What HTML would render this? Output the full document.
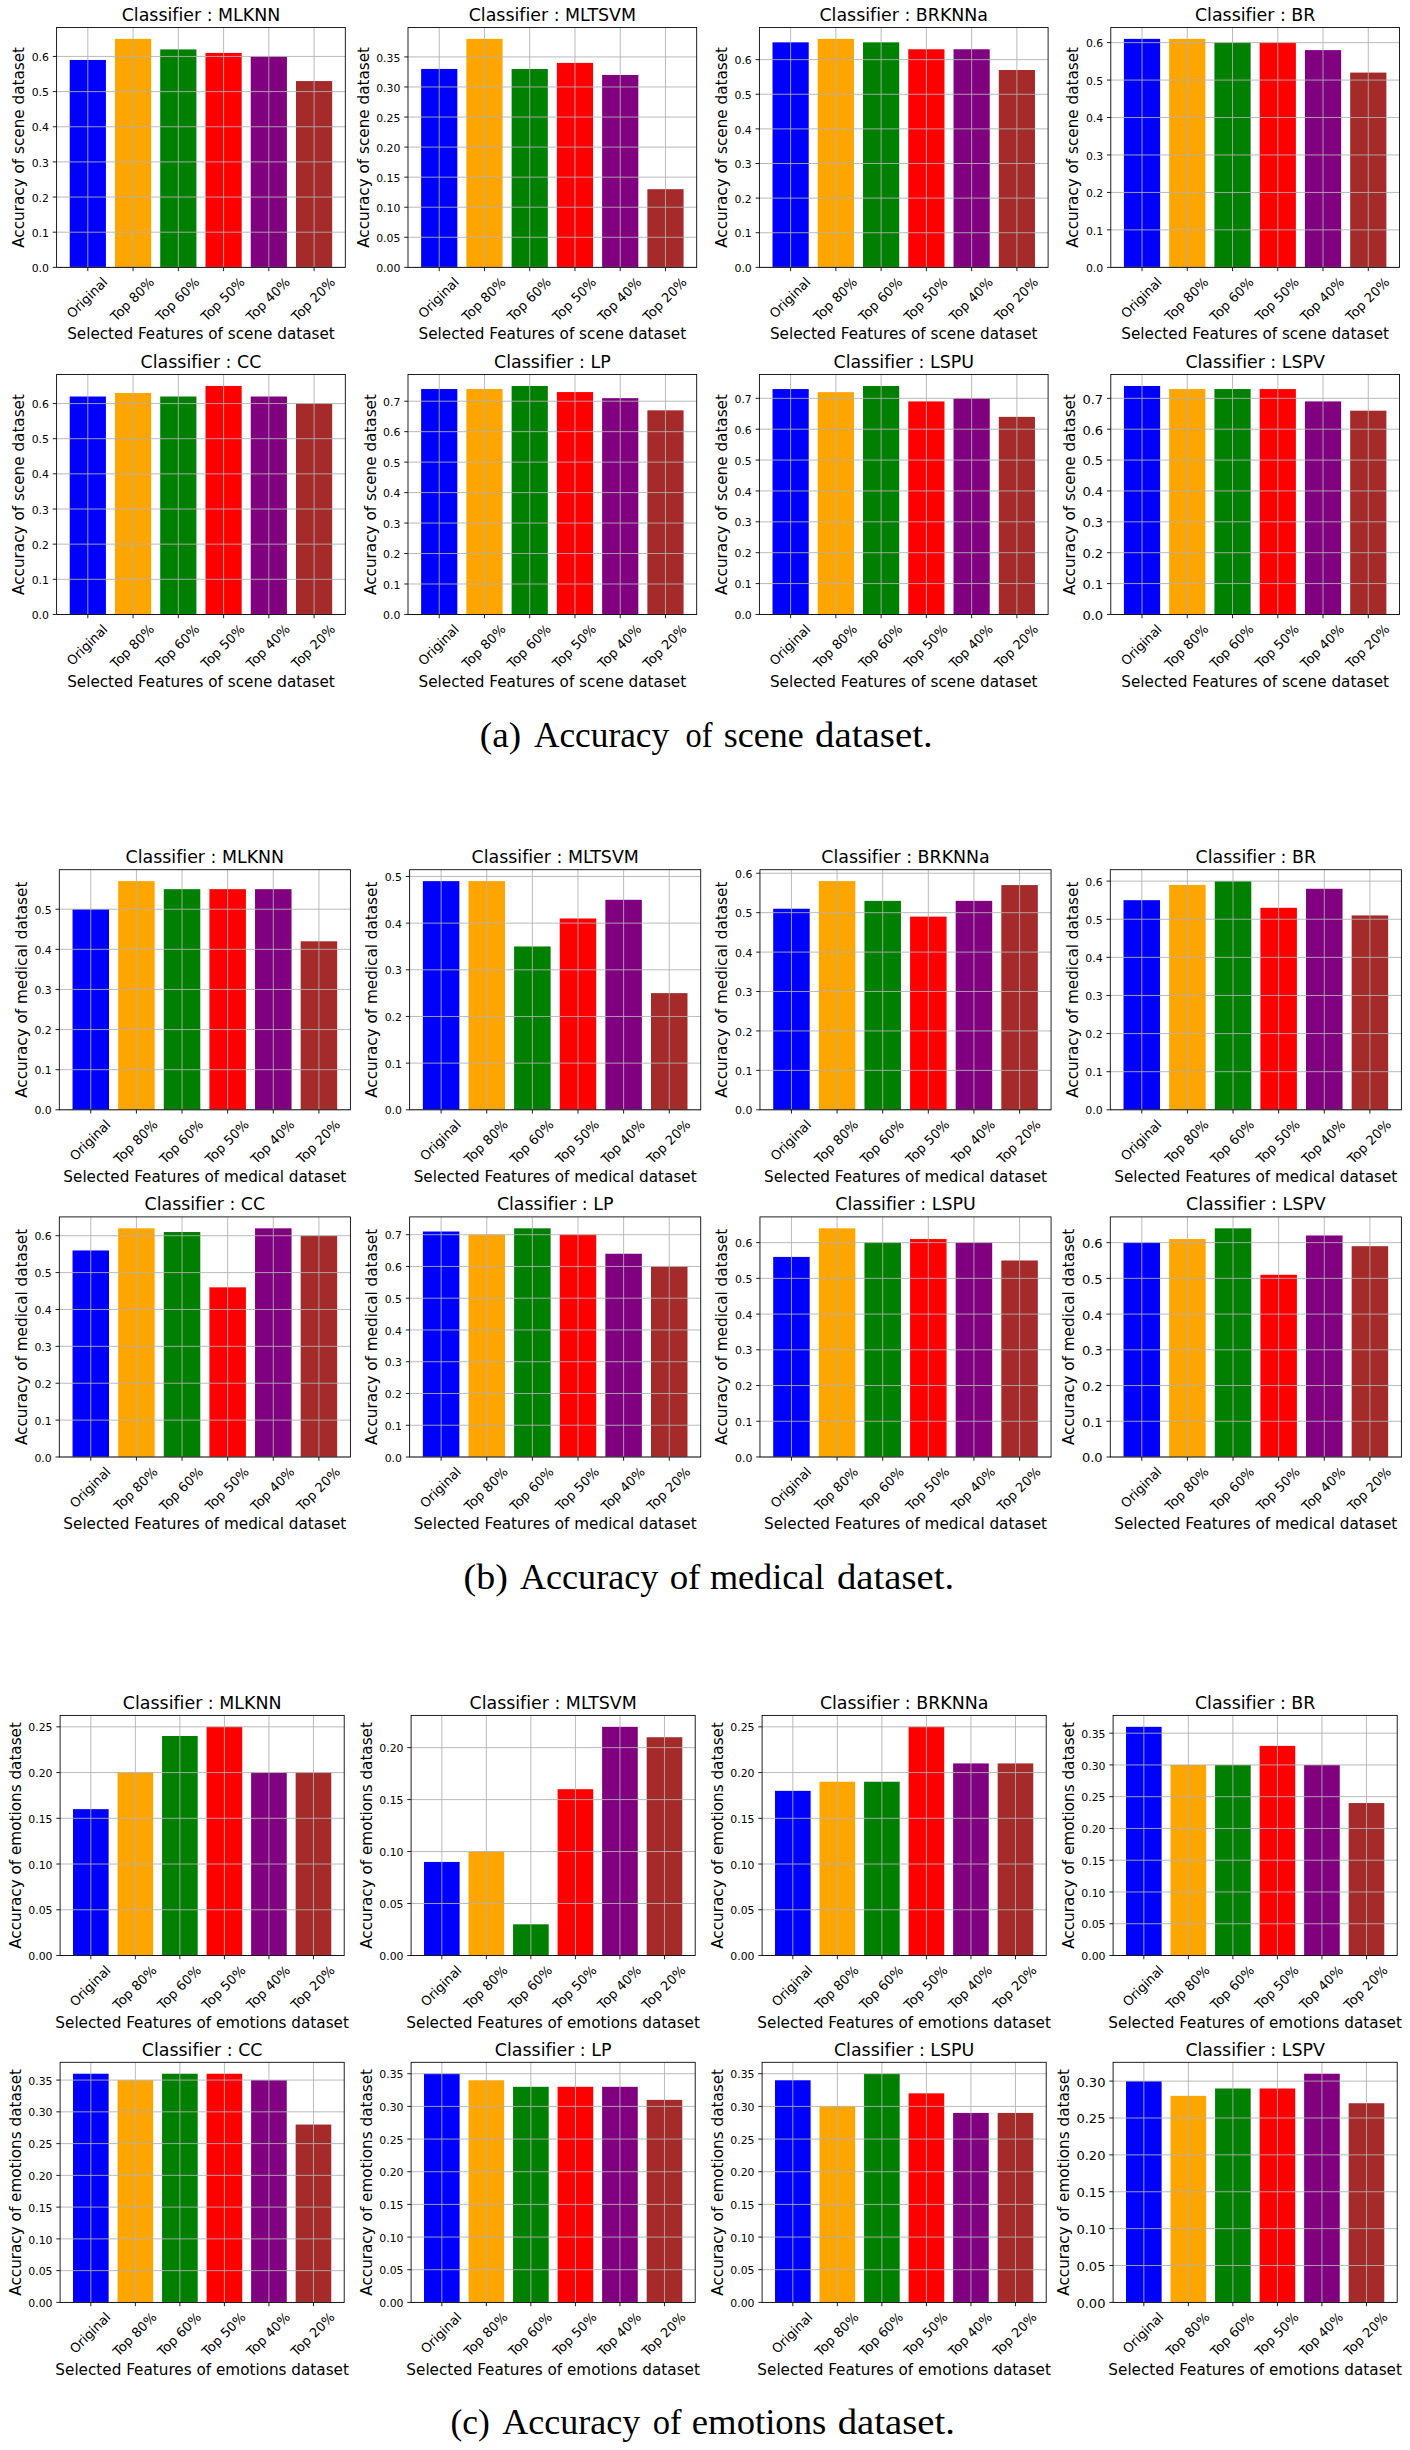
<!DOCTYPE html>
<html lang="en"><head><meta charset="utf-8"><title>Accuracy of datasets</title>
<style>
html,body{margin:0;padding:0;background:#fff}
svg{display:block}
svg text{font-family:"DejaVu Sans","Liberation Sans",sans-serif;fill:#000;font-variant-ligatures:none}
svg text.cap{font-family:"Liberation Serif","DejaVu Serif",serif}
</style></head><body>
<svg width="1410" height="2450" viewBox="0 0 1410 2450">
<rect width="1410" height="2450" fill="#fff"/>
<g>
<rect x="69.72" y="59.96" width="36.2" height="207.39" fill="#0000ff"/>
<rect x="114.97" y="38.87" width="36.2" height="228.48" fill="#ffa500"/>
<rect x="160.22" y="49.42" width="36.2" height="217.93" fill="#008000"/>
<rect x="205.48" y="52.93" width="36.2" height="214.42" fill="#ff0000"/>
<rect x="250.73" y="56.45" width="36.2" height="210.9" fill="#800080"/>
<rect x="295.98" y="81.05" width="36.2" height="186.3" fill="#a52a2a"/>
<path d="M87.82 27.45V267.35M133.07 27.45V267.35M178.32 27.45V267.35M223.58 27.45V267.35M268.83 27.45V267.35M314.08 27.45V267.35M56.6 267.35H345.3M56.6 232.2H345.3M56.6 197.05H345.3M56.6 161.9H345.3M56.6 126.75H345.3M56.6 91.6H345.3M56.6 56.45H345.3" stroke="#b0b0b0" stroke-width="0.87" fill="none"/>
<path d="M87.82 267.35v3.81M133.07 267.35v3.81M178.32 267.35v3.81M223.58 267.35v3.81M268.83 267.35v3.81M314.08 267.35v3.81M56.6 267.35h-3.81M56.6 232.2h-3.81M56.6 197.05h-3.81M56.6 161.9h-3.81M56.6 126.75h-3.81M56.6 91.6h-3.81M56.6 56.45h-3.81" stroke="#000" stroke-width="0.87" fill="none"/>
<rect x="56.6" y="27.45" width="288.7" height="239.9" fill="none" stroke="#000" stroke-width="0.87"/>
<g font-size="10.88" text-anchor="end">
<text x="48.98" y="271.97">0.0</text>
<text x="48.98" y="236.82">0.1</text>
<text x="48.98" y="201.67">0.2</text>
<text x="48.98" y="166.52">0.3</text>
<text x="48.98" y="131.37">0.4</text>
<text x="48.98" y="96.22">0.5</text>
<text x="48.98" y="61.07">0.6</text>
</g>
<g font-size="13.06" text-anchor="middle">
<text transform="translate(87.82 298.5) rotate(-45)" y="3.59">Original</text>
<text transform="translate(133.07 299.96) rotate(-45)" y="3.59">Top 80%</text>
<text transform="translate(178.32 299.96) rotate(-45)" y="3.59">Top 60%</text>
<text transform="translate(223.58 299.96) rotate(-45)" y="3.59">Top 50%</text>
<text transform="translate(268.83 299.96) rotate(-45)" y="3.59">Top 40%</text>
<text transform="translate(314.08 299.96) rotate(-45)" y="3.59">Top 20%</text>
</g>
<text x="200.95" y="339.48" font-size="15.23" text-anchor="middle">Selected Features of scene dataset</text>
<text transform="translate(24.13 147.4) rotate(-90)" font-size="15.23" text-anchor="middle">Accuracy of scene dataset</text>
<text x="200.95" y="20.92" font-size="17.41" text-anchor="middle">Classifier : MLKNN</text>
</g>
<g>
<rect x="421.12" y="68.94" width="36.2" height="198.41" fill="#0000ff"/>
<rect x="466.37" y="38.87" width="36.2" height="228.48" fill="#ffa500"/>
<rect x="511.62" y="68.94" width="36.2" height="198.41" fill="#008000"/>
<rect x="556.88" y="62.92" width="36.2" height="204.43" fill="#ff0000"/>
<rect x="602.13" y="74.95" width="36.2" height="192.4" fill="#800080"/>
<rect x="647.38" y="189.19" width="36.2" height="78.16" fill="#a52a2a"/>
<path d="M439.22 27.45V267.35M484.47 27.45V267.35M529.72 27.45V267.35M574.98 27.45V267.35M620.23 27.45V267.35M665.48 27.45V267.35M408 267.35H696.7M408 237.29H696.7M408 207.22H696.7M408 177.16H696.7M408 147.1H696.7M408 117.04H696.7M408 86.97H696.7M408 56.91H696.7" stroke="#b0b0b0" stroke-width="0.87" fill="none"/>
<path d="M439.22 267.35v3.81M484.47 267.35v3.81M529.72 267.35v3.81M574.98 267.35v3.81M620.23 267.35v3.81M665.48 267.35v3.81M408 267.35h-3.81M408 237.29h-3.81M408 207.22h-3.81M408 177.16h-3.81M408 147.1h-3.81M408 117.04h-3.81M408 86.97h-3.81M408 56.91h-3.81" stroke="#000" stroke-width="0.87" fill="none"/>
<rect x="408" y="27.45" width="288.7" height="239.9" fill="none" stroke="#000" stroke-width="0.87"/>
<g font-size="10.88" text-anchor="end">
<text x="400.38" y="271.97">0.00</text>
<text x="400.38" y="241.91">0.05</text>
<text x="400.38" y="211.85">0.10</text>
<text x="400.38" y="181.78">0.15</text>
<text x="400.38" y="151.72">0.20</text>
<text x="400.38" y="121.66">0.25</text>
<text x="400.38" y="91.6">0.30</text>
<text x="400.38" y="61.53">0.35</text>
</g>
<g font-size="13.06" text-anchor="middle">
<text transform="translate(439.22 298.5) rotate(-45)" y="3.59">Original</text>
<text transform="translate(484.47 299.96) rotate(-45)" y="3.59">Top 80%</text>
<text transform="translate(529.72 299.96) rotate(-45)" y="3.59">Top 60%</text>
<text transform="translate(574.98 299.96) rotate(-45)" y="3.59">Top 50%</text>
<text transform="translate(620.23 299.96) rotate(-45)" y="3.59">Top 40%</text>
<text transform="translate(665.48 299.96) rotate(-45)" y="3.59">Top 20%</text>
</g>
<text x="552.35" y="339.48" font-size="15.23" text-anchor="middle">Selected Features of scene dataset</text>
<text transform="translate(368.61 147.4) rotate(-90)" font-size="15.23" text-anchor="middle">Accuracy of scene dataset</text>
<text x="552.35" y="20.92" font-size="17.41" text-anchor="middle">Classifier : MLTSVM</text>
</g>
<g>
<rect x="772.52" y="42.34" width="36.2" height="225.01" fill="#0000ff"/>
<rect x="817.77" y="38.87" width="36.2" height="228.48" fill="#ffa500"/>
<rect x="863.02" y="42.34" width="36.2" height="225.01" fill="#008000"/>
<rect x="908.28" y="49.26" width="36.2" height="218.09" fill="#ff0000"/>
<rect x="953.53" y="49.26" width="36.2" height="218.09" fill="#800080"/>
<rect x="998.78" y="70.03" width="36.2" height="197.32" fill="#a52a2a"/>
<path d="M790.62 27.45V267.35M835.87 27.45V267.35M881.12 27.45V267.35M926.38 27.45V267.35M971.63 27.45V267.35M1016.88 27.45V267.35M759.4 267.35H1048.1M759.4 232.73H1048.1M759.4 198.11H1048.1M759.4 163.5H1048.1M759.4 128.88H1048.1M759.4 94.26H1048.1M759.4 59.64H1048.1" stroke="#b0b0b0" stroke-width="0.87" fill="none"/>
<path d="M790.62 267.35v3.81M835.87 267.35v3.81M881.12 267.35v3.81M926.38 267.35v3.81M971.63 267.35v3.81M1016.88 267.35v3.81M759.4 267.35h-3.81M759.4 232.73h-3.81M759.4 198.11h-3.81M759.4 163.5h-3.81M759.4 128.88h-3.81M759.4 94.26h-3.81M759.4 59.64h-3.81" stroke="#000" stroke-width="0.87" fill="none"/>
<rect x="759.4" y="27.45" width="288.7" height="239.9" fill="none" stroke="#000" stroke-width="0.87"/>
<g font-size="10.88" text-anchor="end">
<text x="751.78" y="271.97">0.0</text>
<text x="751.78" y="237.35">0.1</text>
<text x="751.78" y="202.74">0.2</text>
<text x="751.78" y="168.12">0.3</text>
<text x="751.78" y="133.5">0.4</text>
<text x="751.78" y="98.88">0.5</text>
<text x="751.78" y="64.27">0.6</text>
</g>
<g font-size="13.06" text-anchor="middle">
<text transform="translate(790.62 298.5) rotate(-45)" y="3.59">Original</text>
<text transform="translate(835.87 299.96) rotate(-45)" y="3.59">Top 80%</text>
<text transform="translate(881.12 299.96) rotate(-45)" y="3.59">Top 60%</text>
<text transform="translate(926.38 299.96) rotate(-45)" y="3.59">Top 50%</text>
<text transform="translate(971.63 299.96) rotate(-45)" y="3.59">Top 40%</text>
<text transform="translate(1016.88 299.96) rotate(-45)" y="3.59">Top 20%</text>
</g>
<text x="903.75" y="339.48" font-size="15.23" text-anchor="middle">Selected Features of scene dataset</text>
<text transform="translate(726.93 147.4) rotate(-90)" font-size="15.23" text-anchor="middle">Accuracy of scene dataset</text>
<text x="903.75" y="20.92" font-size="17.41" text-anchor="middle">Classifier : BRKNNa</text>
</g>
<g>
<rect x="1123.92" y="38.87" width="36.2" height="228.48" fill="#0000ff"/>
<rect x="1169.17" y="38.87" width="36.2" height="228.48" fill="#ffa500"/>
<rect x="1214.42" y="42.62" width="36.2" height="224.73" fill="#008000"/>
<rect x="1259.68" y="42.62" width="36.2" height="224.73" fill="#ff0000"/>
<rect x="1304.93" y="50.11" width="36.2" height="217.24" fill="#800080"/>
<rect x="1350.18" y="72.58" width="36.2" height="194.77" fill="#a52a2a"/>
<path d="M1142.02 27.45V267.35M1187.27 27.45V267.35M1232.52 27.45V267.35M1277.78 27.45V267.35M1323.03 27.45V267.35M1368.28 27.45V267.35M1110.8 267.35H1399.5M1110.8 229.89H1399.5M1110.8 192.44H1399.5M1110.8 154.98H1399.5M1110.8 117.53H1399.5M1110.8 80.07H1399.5M1110.8 42.62H1399.5" stroke="#b0b0b0" stroke-width="0.87" fill="none"/>
<path d="M1142.02 267.35v3.81M1187.27 267.35v3.81M1232.52 267.35v3.81M1277.78 267.35v3.81M1323.03 267.35v3.81M1368.28 267.35v3.81M1110.8 267.35h-3.81M1110.8 229.89h-3.81M1110.8 192.44h-3.81M1110.8 154.98h-3.81M1110.8 117.53h-3.81M1110.8 80.07h-3.81M1110.8 42.62h-3.81" stroke="#000" stroke-width="0.87" fill="none"/>
<rect x="1110.8" y="27.45" width="288.7" height="239.9" fill="none" stroke="#000" stroke-width="0.87"/>
<g font-size="10.88" text-anchor="end">
<text x="1103.18" y="271.97">0.0</text>
<text x="1103.18" y="234.52">0.1</text>
<text x="1103.18" y="197.06">0.2</text>
<text x="1103.18" y="159.61">0.3</text>
<text x="1103.18" y="122.15">0.4</text>
<text x="1103.18" y="84.7">0.5</text>
<text x="1103.18" y="47.24">0.6</text>
</g>
<g font-size="13.06" text-anchor="middle">
<text transform="translate(1142.02 298.5) rotate(-45)" y="3.59">Original</text>
<text transform="translate(1187.27 299.96) rotate(-45)" y="3.59">Top 80%</text>
<text transform="translate(1232.52 299.96) rotate(-45)" y="3.59">Top 60%</text>
<text transform="translate(1277.78 299.96) rotate(-45)" y="3.59">Top 50%</text>
<text transform="translate(1323.03 299.96) rotate(-45)" y="3.59">Top 40%</text>
<text transform="translate(1368.28 299.96) rotate(-45)" y="3.59">Top 20%</text>
</g>
<text x="1255.15" y="339.48" font-size="15.23" text-anchor="middle">Selected Features of scene dataset</text>
<text transform="translate(1078.33 147.4) rotate(-90)" font-size="15.23" text-anchor="middle">Accuracy of scene dataset</text>
<text x="1255.15" y="20.92" font-size="17.41" text-anchor="middle">Classifier : BR</text>
</g>
<g>
<rect x="69.72" y="396.52" width="36.2" height="217.93" fill="#0000ff"/>
<rect x="114.97" y="393" width="36.2" height="221.45" fill="#ffa500"/>
<rect x="160.22" y="396.52" width="36.2" height="217.93" fill="#008000"/>
<rect x="205.48" y="385.97" width="36.2" height="228.48" fill="#ff0000"/>
<rect x="250.73" y="396.52" width="36.2" height="217.93" fill="#800080"/>
<rect x="295.98" y="403.55" width="36.2" height="210.9" fill="#a52a2a"/>
<path d="M87.82 374.55V614.45M133.07 374.55V614.45M178.32 374.55V614.45M223.58 374.55V614.45M268.83 374.55V614.45M314.08 374.55V614.45M56.6 614.45H345.3M56.6 579.3H345.3M56.6 544.15H345.3M56.6 509H345.3M56.6 473.85H345.3M56.6 438.7H345.3M56.6 403.55H345.3" stroke="#b0b0b0" stroke-width="0.87" fill="none"/>
<path d="M87.82 614.45v3.81M133.07 614.45v3.81M178.32 614.45v3.81M223.58 614.45v3.81M268.83 614.45v3.81M314.08 614.45v3.81M56.6 614.45h-3.81M56.6 579.3h-3.81M56.6 544.15h-3.81M56.6 509h-3.81M56.6 473.85h-3.81M56.6 438.7h-3.81M56.6 403.55h-3.81" stroke="#000" stroke-width="0.87" fill="none"/>
<rect x="56.6" y="374.55" width="288.7" height="239.9" fill="none" stroke="#000" stroke-width="0.87"/>
<g font-size="10.88" text-anchor="end">
<text x="48.98" y="619.07">0.0</text>
<text x="48.98" y="583.92">0.1</text>
<text x="48.98" y="548.77">0.2</text>
<text x="48.98" y="513.62">0.3</text>
<text x="48.98" y="478.47">0.4</text>
<text x="48.98" y="443.32">0.5</text>
<text x="48.98" y="408.17">0.6</text>
</g>
<g font-size="13.06" text-anchor="middle">
<text transform="translate(87.82 645.6) rotate(-45)" y="3.59">Original</text>
<text transform="translate(133.07 647.06) rotate(-45)" y="3.59">Top 80%</text>
<text transform="translate(178.32 647.06) rotate(-45)" y="3.59">Top 60%</text>
<text transform="translate(223.58 647.06) rotate(-45)" y="3.59">Top 50%</text>
<text transform="translate(268.83 647.06) rotate(-45)" y="3.59">Top 40%</text>
<text transform="translate(314.08 647.06) rotate(-45)" y="3.59">Top 20%</text>
</g>
<text x="200.95" y="686.58" font-size="15.23" text-anchor="middle">Selected Features of scene dataset</text>
<text transform="translate(24.13 494.5) rotate(-90)" font-size="15.23" text-anchor="middle">Accuracy of scene dataset</text>
<text x="200.95" y="368.02" font-size="17.41" text-anchor="middle">Classifier : CC</text>
</g>
<g>
<rect x="421.12" y="389.02" width="36.2" height="225.43" fill="#0000ff"/>
<rect x="466.37" y="389.02" width="36.2" height="225.43" fill="#ffa500"/>
<rect x="511.62" y="385.97" width="36.2" height="228.48" fill="#008000"/>
<rect x="556.88" y="392.07" width="36.2" height="222.38" fill="#ff0000"/>
<rect x="602.13" y="398.16" width="36.2" height="216.29" fill="#800080"/>
<rect x="647.38" y="410.34" width="36.2" height="204.11" fill="#a52a2a"/>
<path d="M439.22 374.55V614.45M484.47 374.55V614.45M529.72 374.55V614.45M574.98 374.55V614.45M620.23 374.55V614.45M665.48 374.55V614.45M408 614.45H696.7M408 583.99H696.7M408 553.52H696.7M408 523.06H696.7M408 492.6H696.7M408 462.13H696.7M408 431.67H696.7M408 401.21H696.7" stroke="#b0b0b0" stroke-width="0.87" fill="none"/>
<path d="M439.22 614.45v3.81M484.47 614.45v3.81M529.72 614.45v3.81M574.98 614.45v3.81M620.23 614.45v3.81M665.48 614.45v3.81M408 614.45h-3.81M408 583.99h-3.81M408 553.52h-3.81M408 523.06h-3.81M408 492.6h-3.81M408 462.13h-3.81M408 431.67h-3.81M408 401.21h-3.81" stroke="#000" stroke-width="0.87" fill="none"/>
<rect x="408" y="374.55" width="288.7" height="239.9" fill="none" stroke="#000" stroke-width="0.87"/>
<g font-size="10.88" text-anchor="end">
<text x="400.38" y="619.07">0.0</text>
<text x="400.38" y="588.61">0.1</text>
<text x="400.38" y="558.14">0.2</text>
<text x="400.38" y="527.68">0.3</text>
<text x="400.38" y="497.22">0.4</text>
<text x="400.38" y="466.75">0.5</text>
<text x="400.38" y="436.29">0.6</text>
<text x="400.38" y="405.83">0.7</text>
</g>
<g font-size="13.06" text-anchor="middle">
<text transform="translate(439.22 645.6) rotate(-45)" y="3.59">Original</text>
<text transform="translate(484.47 647.06) rotate(-45)" y="3.59">Top 80%</text>
<text transform="translate(529.72 647.06) rotate(-45)" y="3.59">Top 60%</text>
<text transform="translate(574.98 647.06) rotate(-45)" y="3.59">Top 50%</text>
<text transform="translate(620.23 647.06) rotate(-45)" y="3.59">Top 40%</text>
<text transform="translate(665.48 647.06) rotate(-45)" y="3.59">Top 20%</text>
</g>
<text x="552.35" y="686.58" font-size="15.23" text-anchor="middle">Selected Features of scene dataset</text>
<text transform="translate(375.53 494.5) rotate(-90)" font-size="15.23" text-anchor="middle">Accuracy of scene dataset</text>
<text x="552.35" y="368.02" font-size="17.41" text-anchor="middle">Classifier : LP</text>
</g>
<g>
<rect x="772.52" y="389.06" width="36.2" height="225.39" fill="#0000ff"/>
<rect x="817.77" y="392.15" width="36.2" height="222.3" fill="#ffa500"/>
<rect x="863.02" y="385.97" width="36.2" height="228.48" fill="#008000"/>
<rect x="908.28" y="401.41" width="36.2" height="213.04" fill="#ff0000"/>
<rect x="953.53" y="398.32" width="36.2" height="216.13" fill="#800080"/>
<rect x="998.78" y="416.85" width="36.2" height="197.6" fill="#a52a2a"/>
<path d="M790.62 374.55V614.45M835.87 374.55V614.45M881.12 374.55V614.45M926.38 374.55V614.45M971.63 374.55V614.45M1016.88 374.55V614.45M759.4 614.45H1048.1M759.4 583.57H1048.1M759.4 552.7H1048.1M759.4 521.82H1048.1M759.4 490.95H1048.1M759.4 460.07H1048.1M759.4 429.2H1048.1M759.4 398.32H1048.1" stroke="#b0b0b0" stroke-width="0.87" fill="none"/>
<path d="M790.62 614.45v3.81M835.87 614.45v3.81M881.12 614.45v3.81M926.38 614.45v3.81M971.63 614.45v3.81M1016.88 614.45v3.81M759.4 614.45h-3.81M759.4 583.57h-3.81M759.4 552.7h-3.81M759.4 521.82h-3.81M759.4 490.95h-3.81M759.4 460.07h-3.81M759.4 429.2h-3.81M759.4 398.32h-3.81" stroke="#000" stroke-width="0.87" fill="none"/>
<rect x="759.4" y="374.55" width="288.7" height="239.9" fill="none" stroke="#000" stroke-width="0.87"/>
<g font-size="10.88" text-anchor="end">
<text x="751.78" y="619.07">0.0</text>
<text x="751.78" y="588.2">0.1</text>
<text x="751.78" y="557.32">0.2</text>
<text x="751.78" y="526.45">0.3</text>
<text x="751.78" y="495.57">0.4</text>
<text x="751.78" y="464.7">0.5</text>
<text x="751.78" y="433.82">0.6</text>
<text x="751.78" y="402.94">0.7</text>
</g>
<g font-size="13.06" text-anchor="middle">
<text transform="translate(790.62 645.6) rotate(-45)" y="3.59">Original</text>
<text transform="translate(835.87 647.06) rotate(-45)" y="3.59">Top 80%</text>
<text transform="translate(881.12 647.06) rotate(-45)" y="3.59">Top 60%</text>
<text transform="translate(926.38 647.06) rotate(-45)" y="3.59">Top 50%</text>
<text transform="translate(971.63 647.06) rotate(-45)" y="3.59">Top 40%</text>
<text transform="translate(1016.88 647.06) rotate(-45)" y="3.59">Top 20%</text>
</g>
<text x="903.75" y="686.58" font-size="15.23" text-anchor="middle">Selected Features of scene dataset</text>
<text transform="translate(726.93 494.5) rotate(-90)" font-size="15.23" text-anchor="middle">Accuracy of scene dataset</text>
<text x="903.75" y="368.02" font-size="17.41" text-anchor="middle">Classifier : LSPU</text>
</g>
<g>
<rect x="1123.92" y="385.97" width="36.2" height="228.48" fill="#0000ff"/>
<rect x="1169.17" y="389.06" width="36.2" height="225.39" fill="#ffa500"/>
<rect x="1214.42" y="389.06" width="36.2" height="225.39" fill="#008000"/>
<rect x="1259.68" y="389.06" width="36.2" height="225.39" fill="#ff0000"/>
<rect x="1304.93" y="401.41" width="36.2" height="213.04" fill="#800080"/>
<rect x="1350.18" y="410.67" width="36.2" height="203.78" fill="#a52a2a"/>
<path d="M1142.02 374.55V614.45M1187.27 374.55V614.45M1232.52 374.55V614.45M1277.78 374.55V614.45M1323.03 374.55V614.45M1368.28 374.55V614.45M1110.8 614.45H1399.5M1110.8 583.57H1399.5M1110.8 552.7H1399.5M1110.8 521.82H1399.5M1110.8 490.95H1399.5M1110.8 460.07H1399.5M1110.8 429.2H1399.5M1110.8 398.32H1399.5" stroke="#b0b0b0" stroke-width="0.87" fill="none"/>
<path d="M1142.02 614.45v3.81M1187.27 614.45v3.81M1232.52 614.45v3.81M1277.78 614.45v3.81M1323.03 614.45v3.81M1368.28 614.45v3.81M1110.8 614.45h-3.81M1110.8 583.57h-3.81M1110.8 552.7h-3.81M1110.8 521.82h-3.81M1110.8 490.95h-3.81M1110.8 460.07h-3.81M1110.8 429.2h-3.81M1110.8 398.32h-3.81" stroke="#000" stroke-width="0.87" fill="none"/>
<rect x="1110.8" y="374.55" width="288.7" height="239.9" fill="none" stroke="#000" stroke-width="0.87"/>
<g font-size="13.06" text-anchor="end">
<text x="1103.18" y="619.87">0.0</text>
<text x="1103.18" y="588.99">0.1</text>
<text x="1103.18" y="558.11">0.2</text>
<text x="1103.18" y="527.24">0.3</text>
<text x="1103.18" y="496.36">0.4</text>
<text x="1103.18" y="465.49">0.5</text>
<text x="1103.18" y="434.61">0.6</text>
<text x="1103.18" y="403.74">0.7</text>
</g>
<g font-size="13.06" text-anchor="middle">
<text transform="translate(1142.02 645.6) rotate(-45)" y="3.59">Original</text>
<text transform="translate(1187.27 647.06) rotate(-45)" y="3.59">Top 80%</text>
<text transform="translate(1232.52 647.06) rotate(-45)" y="3.59">Top 60%</text>
<text transform="translate(1277.78 647.06) rotate(-45)" y="3.59">Top 50%</text>
<text transform="translate(1323.03 647.06) rotate(-45)" y="3.59">Top 40%</text>
<text transform="translate(1368.28 647.06) rotate(-45)" y="3.59">Top 20%</text>
</g>
<text x="1255.15" y="686.58" font-size="15.23" text-anchor="middle">Selected Features of scene dataset</text>
<text transform="translate(1074.87 494.5) rotate(-90)" font-size="15.23" text-anchor="middle">Accuracy of scene dataset</text>
<text x="1255.15" y="368.02" font-size="17.41" text-anchor="middle">Classifier : LSPV</text>
</g>
<text class="cap" x="479.8" y="746.8" font-size="36" textLength="41.27" lengthAdjust="spacingAndGlyphs">(a)</text>
<text class="cap" x="533.94" y="746.8" font-size="36" textLength="135.26" lengthAdjust="spacingAndGlyphs">Accuracy</text>
<text class="cap" x="685.44" y="746.8" font-size="36" textLength="26.99" lengthAdjust="spacingAndGlyphs">of</text>
<text class="cap" x="723.79" y="746.8" font-size="36" textLength="80" lengthAdjust="spacingAndGlyphs">scene</text>
<text class="cap" x="815.14" y="746.8" font-size="36" textLength="117.59" lengthAdjust="spacingAndGlyphs">dataset.</text>
<g>
<rect x="72.53" y="909.22" width="36.5" height="200.58" fill="#0000ff"/>
<rect x="118.16" y="881.13" width="36.5" height="228.67" fill="#ffa500"/>
<rect x="163.79" y="889.16" width="36.5" height="220.64" fill="#008000"/>
<rect x="209.41" y="889.16" width="36.5" height="220.64" fill="#ff0000"/>
<rect x="255.04" y="889.16" width="36.5" height="220.64" fill="#800080"/>
<rect x="300.67" y="941.31" width="36.5" height="168.49" fill="#a52a2a"/>
<path d="M90.78 869.7V1109.8M136.41 869.7V1109.8M182.04 869.7V1109.8M227.66 869.7V1109.8M273.29 869.7V1109.8M318.92 869.7V1109.8M59.3 1109.8H350.4M59.3 1069.68H350.4M59.3 1029.57H350.4M59.3 989.45H350.4M59.3 949.33H350.4M59.3 909.22H350.4" stroke="#b0b0b0" stroke-width="0.87" fill="none"/>
<path d="M90.78 1109.8v3.81M136.41 1109.8v3.81M182.04 1109.8v3.81M227.66 1109.8v3.81M273.29 1109.8v3.81M318.92 1109.8v3.81M59.3 1109.8h-3.81M59.3 1069.68h-3.81M59.3 1029.57h-3.81M59.3 989.45h-3.81M59.3 949.33h-3.81M59.3 909.22h-3.81" stroke="#000" stroke-width="0.87" fill="none"/>
<rect x="59.3" y="869.7" width="291.1" height="240.1" fill="none" stroke="#000" stroke-width="0.87"/>
<g font-size="10.88" text-anchor="end">
<text x="51.68" y="1114.42">0.0</text>
<text x="51.68" y="1074.3">0.1</text>
<text x="51.68" y="1034.19">0.2</text>
<text x="51.68" y="994.07">0.3</text>
<text x="51.68" y="953.95">0.4</text>
<text x="51.68" y="913.84">0.5</text>
</g>
<g font-size="13.06" text-anchor="middle">
<text transform="translate(90.78 1140.95) rotate(-45)" y="3.59">Original</text>
<text transform="translate(136.41 1142.41) rotate(-45)" y="3.59">Top 80%</text>
<text transform="translate(182.04 1142.41) rotate(-45)" y="3.59">Top 60%</text>
<text transform="translate(227.66 1142.41) rotate(-45)" y="3.59">Top 50%</text>
<text transform="translate(273.29 1142.41) rotate(-45)" y="3.59">Top 40%</text>
<text transform="translate(318.92 1142.41) rotate(-45)" y="3.59">Top 20%</text>
</g>
<text x="204.85" y="1181.93" font-size="15.23" text-anchor="middle">Selected Features of medical dataset</text>
<text transform="translate(26.83 989.75) rotate(-90)" font-size="15.23" text-anchor="middle">Accuracy of medical dataset</text>
<text x="204.85" y="863.17" font-size="17.41" text-anchor="middle">Classifier : MLKNN</text>
</g>
<g>
<rect x="422.86" y="881.13" width="36.5" height="228.67" fill="#0000ff"/>
<rect x="468.49" y="881.13" width="36.5" height="228.67" fill="#ffa500"/>
<rect x="514.12" y="946.47" width="36.5" height="163.33" fill="#008000"/>
<rect x="559.74" y="918.47" width="36.5" height="191.33" fill="#ff0000"/>
<rect x="605.37" y="899.8" width="36.5" height="210" fill="#800080"/>
<rect x="651" y="993.13" width="36.5" height="116.67" fill="#a52a2a"/>
<path d="M441.11 869.7V1109.8M486.74 869.7V1109.8M532.37 869.7V1109.8M577.99 869.7V1109.8M623.62 869.7V1109.8M669.25 869.7V1109.8M409.63 1109.8H700.73M409.63 1063.13H700.73M409.63 1016.47H700.73M409.63 969.8H700.73M409.63 923.13H700.73M409.63 876.47H700.73" stroke="#b0b0b0" stroke-width="0.87" fill="none"/>
<path d="M441.11 1109.8v3.81M486.74 1109.8v3.81M532.37 1109.8v3.81M577.99 1109.8v3.81M623.62 1109.8v3.81M669.25 1109.8v3.81M409.63 1109.8h-3.81M409.63 1063.13h-3.81M409.63 1016.47h-3.81M409.63 969.8h-3.81M409.63 923.13h-3.81M409.63 876.47h-3.81" stroke="#000" stroke-width="0.87" fill="none"/>
<rect x="409.63" y="869.7" width="291.1" height="240.1" fill="none" stroke="#000" stroke-width="0.87"/>
<g font-size="10.88" text-anchor="end">
<text x="402.01" y="1114.42">0.0</text>
<text x="402.01" y="1067.75">0.1</text>
<text x="402.01" y="1021.09">0.2</text>
<text x="402.01" y="974.42">0.3</text>
<text x="402.01" y="927.75">0.4</text>
<text x="402.01" y="881.09">0.5</text>
</g>
<g font-size="13.06" text-anchor="middle">
<text transform="translate(441.11 1140.95) rotate(-45)" y="3.59">Original</text>
<text transform="translate(486.74 1142.41) rotate(-45)" y="3.59">Top 80%</text>
<text transform="translate(532.37 1142.41) rotate(-45)" y="3.59">Top 60%</text>
<text transform="translate(577.99 1142.41) rotate(-45)" y="3.59">Top 50%</text>
<text transform="translate(623.62 1142.41) rotate(-45)" y="3.59">Top 40%</text>
<text transform="translate(669.25 1142.41) rotate(-45)" y="3.59">Top 20%</text>
</g>
<text x="555.18" y="1181.93" font-size="15.23" text-anchor="middle">Selected Features of medical dataset</text>
<text transform="translate(377.16 989.75) rotate(-90)" font-size="15.23" text-anchor="middle">Accuracy of medical dataset</text>
<text x="555.18" y="863.17" font-size="17.41" text-anchor="middle">Classifier : MLTSVM</text>
</g>
<g>
<rect x="773.19" y="908.73" width="36.5" height="201.07" fill="#0000ff"/>
<rect x="818.82" y="881.13" width="36.5" height="228.67" fill="#ffa500"/>
<rect x="864.45" y="900.85" width="36.5" height="208.95" fill="#008000"/>
<rect x="910.07" y="916.62" width="36.5" height="193.18" fill="#ff0000"/>
<rect x="955.7" y="900.85" width="36.5" height="208.95" fill="#800080"/>
<rect x="1001.33" y="885.08" width="36.5" height="224.72" fill="#a52a2a"/>
<path d="M791.44 869.7V1109.8M837.07 869.7V1109.8M882.7 869.7V1109.8M928.32 869.7V1109.8M973.95 869.7V1109.8M1019.58 869.7V1109.8M759.96 1109.8H1051.06M759.96 1070.37H1051.06M759.96 1030.95H1051.06M759.96 991.52H1051.06M759.96 952.1H1051.06M759.96 912.67H1051.06M759.96 873.25H1051.06" stroke="#b0b0b0" stroke-width="0.87" fill="none"/>
<path d="M791.44 1109.8v3.81M837.07 1109.8v3.81M882.7 1109.8v3.81M928.32 1109.8v3.81M973.95 1109.8v3.81M1019.58 1109.8v3.81M759.96 1109.8h-3.81M759.96 1070.37h-3.81M759.96 1030.95h-3.81M759.96 991.52h-3.81M759.96 952.1h-3.81M759.96 912.67h-3.81M759.96 873.25h-3.81" stroke="#000" stroke-width="0.87" fill="none"/>
<rect x="759.96" y="869.7" width="291.1" height="240.1" fill="none" stroke="#000" stroke-width="0.87"/>
<g font-size="10.88" text-anchor="end">
<text x="752.34" y="1114.42">0.0</text>
<text x="752.34" y="1075">0.1</text>
<text x="752.34" y="1035.57">0.2</text>
<text x="752.34" y="996.15">0.3</text>
<text x="752.34" y="956.72">0.4</text>
<text x="752.34" y="917.29">0.5</text>
<text x="752.34" y="877.87">0.6</text>
</g>
<g font-size="13.06" text-anchor="middle">
<text transform="translate(791.44 1140.95) rotate(-45)" y="3.59">Original</text>
<text transform="translate(837.07 1142.41) rotate(-45)" y="3.59">Top 80%</text>
<text transform="translate(882.7 1142.41) rotate(-45)" y="3.59">Top 60%</text>
<text transform="translate(928.32 1142.41) rotate(-45)" y="3.59">Top 50%</text>
<text transform="translate(973.95 1142.41) rotate(-45)" y="3.59">Top 40%</text>
<text transform="translate(1019.58 1142.41) rotate(-45)" y="3.59">Top 20%</text>
</g>
<text x="905.51" y="1181.93" font-size="15.23" text-anchor="middle">Selected Features of medical dataset</text>
<text transform="translate(727.49 989.75) rotate(-90)" font-size="15.23" text-anchor="middle">Accuracy of medical dataset</text>
<text x="905.51" y="863.17" font-size="17.41" text-anchor="middle">Classifier : BRKNNa</text>
</g>
<g>
<rect x="1123.52" y="900.19" width="36.5" height="209.61" fill="#0000ff"/>
<rect x="1169.15" y="884.94" width="36.5" height="224.86" fill="#ffa500"/>
<rect x="1214.78" y="881.13" width="36.5" height="228.67" fill="#008000"/>
<rect x="1260.4" y="907.81" width="36.5" height="201.99" fill="#ff0000"/>
<rect x="1306.03" y="888.76" width="36.5" height="221.04" fill="#800080"/>
<rect x="1351.66" y="915.43" width="36.5" height="194.37" fill="#a52a2a"/>
<path d="M1141.77 869.7V1109.8M1187.4 869.7V1109.8M1233.03 869.7V1109.8M1278.65 869.7V1109.8M1324.28 869.7V1109.8M1369.91 869.7V1109.8M1110.29 1109.8H1401.39M1110.29 1071.69H1401.39M1110.29 1033.58H1401.39M1110.29 995.47H1401.39M1110.29 957.36H1401.39M1110.29 919.24H1401.39M1110.29 881.13H1401.39" stroke="#b0b0b0" stroke-width="0.87" fill="none"/>
<path d="M1141.77 1109.8v3.81M1187.4 1109.8v3.81M1233.03 1109.8v3.81M1278.65 1109.8v3.81M1324.28 1109.8v3.81M1369.91 1109.8v3.81M1110.29 1109.8h-3.81M1110.29 1071.69h-3.81M1110.29 1033.58h-3.81M1110.29 995.47h-3.81M1110.29 957.36h-3.81M1110.29 919.24h-3.81M1110.29 881.13h-3.81" stroke="#000" stroke-width="0.87" fill="none"/>
<rect x="1110.29" y="869.7" width="291.1" height="240.1" fill="none" stroke="#000" stroke-width="0.87"/>
<g font-size="10.88" text-anchor="end">
<text x="1102.67" y="1114.42">0.0</text>
<text x="1102.67" y="1076.31">0.1</text>
<text x="1102.67" y="1038.2">0.2</text>
<text x="1102.67" y="1000.09">0.3</text>
<text x="1102.67" y="961.98">0.4</text>
<text x="1102.67" y="923.87">0.5</text>
<text x="1102.67" y="885.75">0.6</text>
</g>
<g font-size="13.06" text-anchor="middle">
<text transform="translate(1141.77 1140.95) rotate(-45)" y="3.59">Original</text>
<text transform="translate(1187.4 1142.41) rotate(-45)" y="3.59">Top 80%</text>
<text transform="translate(1233.03 1142.41) rotate(-45)" y="3.59">Top 60%</text>
<text transform="translate(1278.65 1142.41) rotate(-45)" y="3.59">Top 50%</text>
<text transform="translate(1324.28 1142.41) rotate(-45)" y="3.59">Top 40%</text>
<text transform="translate(1369.91 1142.41) rotate(-45)" y="3.59">Top 20%</text>
</g>
<text x="1255.84" y="1181.93" font-size="15.23" text-anchor="middle">Selected Features of medical dataset</text>
<text transform="translate(1077.82 989.75) rotate(-90)" font-size="15.23" text-anchor="middle">Accuracy of medical dataset</text>
<text x="1255.84" y="863.17" font-size="17.41" text-anchor="middle">Classifier : BR</text>
</g>
<g>
<rect x="72.53" y="1250.46" width="36.5" height="206.54" fill="#0000ff"/>
<rect x="118.16" y="1228.33" width="36.5" height="228.67" fill="#ffa500"/>
<rect x="163.79" y="1232.02" width="36.5" height="224.98" fill="#008000"/>
<rect x="209.41" y="1287.34" width="36.5" height="169.66" fill="#ff0000"/>
<rect x="255.04" y="1228.33" width="36.5" height="228.67" fill="#800080"/>
<rect x="300.67" y="1235.71" width="36.5" height="221.29" fill="#a52a2a"/>
<path d="M90.78 1216.9V1457M136.41 1216.9V1457M182.04 1216.9V1457M227.66 1216.9V1457M273.29 1216.9V1457M318.92 1216.9V1457M59.3 1457H350.4M59.3 1420.12H350.4M59.3 1383.24H350.4M59.3 1346.35H350.4M59.3 1309.47H350.4M59.3 1272.59H350.4M59.3 1235.71H350.4" stroke="#b0b0b0" stroke-width="0.87" fill="none"/>
<path d="M90.78 1457v3.81M136.41 1457v3.81M182.04 1457v3.81M227.66 1457v3.81M273.29 1457v3.81M318.92 1457v3.81M59.3 1457h-3.81M59.3 1420.12h-3.81M59.3 1383.24h-3.81M59.3 1346.35h-3.81M59.3 1309.47h-3.81M59.3 1272.59h-3.81M59.3 1235.71h-3.81" stroke="#000" stroke-width="0.87" fill="none"/>
<rect x="59.3" y="1216.9" width="291.1" height="240.1" fill="none" stroke="#000" stroke-width="0.87"/>
<g font-size="10.88" text-anchor="end">
<text x="51.68" y="1461.62">0.0</text>
<text x="51.68" y="1424.74">0.1</text>
<text x="51.68" y="1387.86">0.2</text>
<text x="51.68" y="1350.98">0.3</text>
<text x="51.68" y="1314.09">0.4</text>
<text x="51.68" y="1277.21">0.5</text>
<text x="51.68" y="1240.33">0.6</text>
</g>
<g font-size="13.06" text-anchor="middle">
<text transform="translate(90.78 1488.15) rotate(-45)" y="3.59">Original</text>
<text transform="translate(136.41 1489.61) rotate(-45)" y="3.59">Top 80%</text>
<text transform="translate(182.04 1489.61) rotate(-45)" y="3.59">Top 60%</text>
<text transform="translate(227.66 1489.61) rotate(-45)" y="3.59">Top 50%</text>
<text transform="translate(273.29 1489.61) rotate(-45)" y="3.59">Top 40%</text>
<text transform="translate(318.92 1489.61) rotate(-45)" y="3.59">Top 20%</text>
</g>
<text x="204.85" y="1529.13" font-size="15.23" text-anchor="middle">Selected Features of medical dataset</text>
<text transform="translate(26.83 1336.95) rotate(-90)" font-size="15.23" text-anchor="middle">Accuracy of medical dataset</text>
<text x="204.85" y="1210.37" font-size="17.41" text-anchor="middle">Classifier : CC</text>
</g>
<g>
<rect x="422.86" y="1231.51" width="36.5" height="225.49" fill="#0000ff"/>
<rect x="468.49" y="1234.69" width="36.5" height="222.31" fill="#ffa500"/>
<rect x="514.12" y="1228.33" width="36.5" height="228.67" fill="#008000"/>
<rect x="559.74" y="1234.69" width="36.5" height="222.31" fill="#ff0000"/>
<rect x="605.37" y="1253.74" width="36.5" height="203.26" fill="#800080"/>
<rect x="651" y="1266.44" width="36.5" height="190.56" fill="#a52a2a"/>
<path d="M441.11 1216.9V1457M486.74 1216.9V1457M532.37 1216.9V1457M577.99 1216.9V1457M623.62 1216.9V1457M669.25 1216.9V1457M409.63 1457H700.73M409.63 1425.24H700.73M409.63 1393.48H700.73M409.63 1361.72H700.73M409.63 1329.96H700.73M409.63 1298.2H700.73M409.63 1266.44H700.73M409.63 1234.69H700.73" stroke="#b0b0b0" stroke-width="0.87" fill="none"/>
<path d="M441.11 1457v3.81M486.74 1457v3.81M532.37 1457v3.81M577.99 1457v3.81M623.62 1457v3.81M669.25 1457v3.81M409.63 1457h-3.81M409.63 1425.24h-3.81M409.63 1393.48h-3.81M409.63 1361.72h-3.81M409.63 1329.96h-3.81M409.63 1298.2h-3.81M409.63 1266.44h-3.81M409.63 1234.69h-3.81" stroke="#000" stroke-width="0.87" fill="none"/>
<rect x="409.63" y="1216.9" width="291.1" height="240.1" fill="none" stroke="#000" stroke-width="0.87"/>
<g font-size="10.88" text-anchor="end">
<text x="402.01" y="1461.62">0.0</text>
<text x="402.01" y="1429.86">0.1</text>
<text x="402.01" y="1398.1">0.2</text>
<text x="402.01" y="1366.34">0.3</text>
<text x="402.01" y="1334.58">0.4</text>
<text x="402.01" y="1302.82">0.5</text>
<text x="402.01" y="1271.07">0.6</text>
<text x="402.01" y="1239.31">0.7</text>
</g>
<g font-size="13.06" text-anchor="middle">
<text transform="translate(441.11 1488.15) rotate(-45)" y="3.59">Original</text>
<text transform="translate(486.74 1489.61) rotate(-45)" y="3.59">Top 80%</text>
<text transform="translate(532.37 1489.61) rotate(-45)" y="3.59">Top 60%</text>
<text transform="translate(577.99 1489.61) rotate(-45)" y="3.59">Top 50%</text>
<text transform="translate(623.62 1489.61) rotate(-45)" y="3.59">Top 40%</text>
<text transform="translate(669.25 1489.61) rotate(-45)" y="3.59">Top 20%</text>
</g>
<text x="555.18" y="1529.13" font-size="15.23" text-anchor="middle">Selected Features of medical dataset</text>
<text transform="translate(377.16 1336.95) rotate(-90)" font-size="15.23" text-anchor="middle">Accuracy of medical dataset</text>
<text x="555.18" y="1210.37" font-size="17.41" text-anchor="middle">Classifier : LP</text>
</g>
<g>
<rect x="773.19" y="1256.92" width="36.5" height="200.08" fill="#0000ff"/>
<rect x="818.82" y="1228.33" width="36.5" height="228.67" fill="#ffa500"/>
<rect x="864.45" y="1242.62" width="36.5" height="214.38" fill="#008000"/>
<rect x="910.07" y="1239.05" width="36.5" height="217.95" fill="#ff0000"/>
<rect x="955.7" y="1242.62" width="36.5" height="214.38" fill="#800080"/>
<rect x="1001.33" y="1260.49" width="36.5" height="196.51" fill="#a52a2a"/>
<path d="M791.44 1216.9V1457M837.07 1216.9V1457M882.7 1216.9V1457M928.32 1216.9V1457M973.95 1216.9V1457M1019.58 1216.9V1457M759.96 1457H1051.06M759.96 1421.27H1051.06M759.96 1385.54H1051.06M759.96 1349.81H1051.06M759.96 1314.08H1051.06M759.96 1278.35H1051.06M759.96 1242.62H1051.06" stroke="#b0b0b0" stroke-width="0.87" fill="none"/>
<path d="M791.44 1457v3.81M837.07 1457v3.81M882.7 1457v3.81M928.32 1457v3.81M973.95 1457v3.81M1019.58 1457v3.81M759.96 1457h-3.81M759.96 1421.27h-3.81M759.96 1385.54h-3.81M759.96 1349.81h-3.81M759.96 1314.08h-3.81M759.96 1278.35h-3.81M759.96 1242.62h-3.81" stroke="#000" stroke-width="0.87" fill="none"/>
<rect x="759.96" y="1216.9" width="291.1" height="240.1" fill="none" stroke="#000" stroke-width="0.87"/>
<g font-size="10.88" text-anchor="end">
<text x="752.34" y="1461.62">0.0</text>
<text x="752.34" y="1425.89">0.1</text>
<text x="752.34" y="1390.16">0.2</text>
<text x="752.34" y="1354.43">0.3</text>
<text x="752.34" y="1318.7">0.4</text>
<text x="752.34" y="1282.98">0.5</text>
<text x="752.34" y="1247.25">0.6</text>
</g>
<g font-size="13.06" text-anchor="middle">
<text transform="translate(791.44 1488.15) rotate(-45)" y="3.59">Original</text>
<text transform="translate(837.07 1489.61) rotate(-45)" y="3.59">Top 80%</text>
<text transform="translate(882.7 1489.61) rotate(-45)" y="3.59">Top 60%</text>
<text transform="translate(928.32 1489.61) rotate(-45)" y="3.59">Top 50%</text>
<text transform="translate(973.95 1489.61) rotate(-45)" y="3.59">Top 40%</text>
<text transform="translate(1019.58 1489.61) rotate(-45)" y="3.59">Top 20%</text>
</g>
<text x="905.51" y="1529.13" font-size="15.23" text-anchor="middle">Selected Features of medical dataset</text>
<text transform="translate(727.49 1336.95) rotate(-90)" font-size="15.23" text-anchor="middle">Accuracy of medical dataset</text>
<text x="905.51" y="1210.37" font-size="17.41" text-anchor="middle">Classifier : LSPU</text>
</g>
<g>
<rect x="1123.52" y="1242.62" width="36.5" height="214.38" fill="#0000ff"/>
<rect x="1169.15" y="1239.05" width="36.5" height="217.95" fill="#ffa500"/>
<rect x="1214.78" y="1228.33" width="36.5" height="228.67" fill="#008000"/>
<rect x="1260.4" y="1274.78" width="36.5" height="182.22" fill="#ff0000"/>
<rect x="1306.03" y="1235.48" width="36.5" height="221.52" fill="#800080"/>
<rect x="1351.66" y="1246.2" width="36.5" height="210.8" fill="#a52a2a"/>
<path d="M1141.77 1216.9V1457M1187.4 1216.9V1457M1233.03 1216.9V1457M1278.65 1216.9V1457M1324.28 1216.9V1457M1369.91 1216.9V1457M1110.29 1457H1401.39M1110.29 1421.27H1401.39M1110.29 1385.54H1401.39M1110.29 1349.81H1401.39M1110.29 1314.08H1401.39M1110.29 1278.35H1401.39M1110.29 1242.62H1401.39" stroke="#b0b0b0" stroke-width="0.87" fill="none"/>
<path d="M1141.77 1457v3.81M1187.4 1457v3.81M1233.03 1457v3.81M1278.65 1457v3.81M1324.28 1457v3.81M1369.91 1457v3.81M1110.29 1457h-3.81M1110.29 1421.27h-3.81M1110.29 1385.54h-3.81M1110.29 1349.81h-3.81M1110.29 1314.08h-3.81M1110.29 1278.35h-3.81M1110.29 1242.62h-3.81" stroke="#000" stroke-width="0.87" fill="none"/>
<rect x="1110.29" y="1216.9" width="291.1" height="240.1" fill="none" stroke="#000" stroke-width="0.87"/>
<g font-size="13.06" text-anchor="end">
<text x="1102.67" y="1462.42">0.0</text>
<text x="1102.67" y="1426.69">0.1</text>
<text x="1102.67" y="1390.96">0.2</text>
<text x="1102.67" y="1355.23">0.3</text>
<text x="1102.67" y="1319.5">0.4</text>
<text x="1102.67" y="1283.77">0.5</text>
<text x="1102.67" y="1248.04">0.6</text>
</g>
<g font-size="13.06" text-anchor="middle">
<text transform="translate(1141.77 1488.15) rotate(-45)" y="3.59">Original</text>
<text transform="translate(1187.4 1489.61) rotate(-45)" y="3.59">Top 80%</text>
<text transform="translate(1233.03 1489.61) rotate(-45)" y="3.59">Top 60%</text>
<text transform="translate(1278.65 1489.61) rotate(-45)" y="3.59">Top 50%</text>
<text transform="translate(1324.28 1489.61) rotate(-45)" y="3.59">Top 40%</text>
<text transform="translate(1369.91 1489.61) rotate(-45)" y="3.59">Top 20%</text>
</g>
<text x="1255.84" y="1529.13" font-size="15.23" text-anchor="middle">Selected Features of medical dataset</text>
<text transform="translate(1074.36 1336.95) rotate(-90)" font-size="15.23" text-anchor="middle">Accuracy of medical dataset</text>
<text x="1255.84" y="1210.37" font-size="17.41" text-anchor="middle">Classifier : LSPV</text>
</g>
<text class="cap" x="463.64" y="1588.9" font-size="36" textLength="44.28" lengthAdjust="spacingAndGlyphs">(b)</text>
<text class="cap" x="520.03" y="1588.9" font-size="36" textLength="138.27" lengthAdjust="spacingAndGlyphs">Accuracy</text>
<text class="cap" x="669.65" y="1588.9" font-size="36" textLength="30.75" lengthAdjust="spacingAndGlyphs">of</text>
<text class="cap" x="709.88" y="1588.9" font-size="36" textLength="114.58" lengthAdjust="spacingAndGlyphs">medical</text>
<text class="cap" x="836.94" y="1588.9" font-size="36" textLength="117.21" lengthAdjust="spacingAndGlyphs">dataset.</text>
<g>
<rect x="73.01" y="1809.15" width="35.62" height="146.35" fill="#0000ff"/>
<rect x="117.54" y="1772.57" width="35.62" height="182.93" fill="#ffa500"/>
<rect x="162.07" y="1735.98" width="35.62" height="219.52" fill="#008000"/>
<rect x="206.6" y="1726.83" width="35.62" height="228.67" fill="#ff0000"/>
<rect x="251.13" y="1772.57" width="35.62" height="182.93" fill="#800080"/>
<rect x="295.66" y="1772.57" width="35.62" height="182.93" fill="#a52a2a"/>
<path d="M90.83 1715.4V1955.5M135.36 1715.4V1955.5M179.89 1715.4V1955.5M224.41 1715.4V1955.5M268.94 1715.4V1955.5M313.47 1715.4V1955.5M60.1 1955.5H344.2M60.1 1909.77H344.2M60.1 1864.03H344.2M60.1 1818.3H344.2M60.1 1772.57H344.2M60.1 1726.83H344.2" stroke="#b0b0b0" stroke-width="0.87" fill="none"/>
<path d="M90.83 1955.5v3.81M135.36 1955.5v3.81M179.89 1955.5v3.81M224.41 1955.5v3.81M268.94 1955.5v3.81M313.47 1955.5v3.81M60.1 1955.5h-3.81M60.1 1909.77h-3.81M60.1 1864.03h-3.81M60.1 1818.3h-3.81M60.1 1772.57h-3.81M60.1 1726.83h-3.81" stroke="#000" stroke-width="0.87" fill="none"/>
<rect x="60.1" y="1715.4" width="284.1" height="240.1" fill="none" stroke="#000" stroke-width="0.87"/>
<g font-size="10.88" text-anchor="end">
<text x="52.48" y="1960.12">0.00</text>
<text x="52.48" y="1914.39">0.05</text>
<text x="52.48" y="1868.65">0.10</text>
<text x="52.48" y="1822.92">0.15</text>
<text x="52.48" y="1777.19">0.20</text>
<text x="52.48" y="1731.45">0.25</text>
</g>
<g font-size="13.06" text-anchor="middle">
<text transform="translate(90.83 1986.65) rotate(-45)" y="3.59">Original</text>
<text transform="translate(135.36 1988.11) rotate(-45)" y="3.59">Top 80%</text>
<text transform="translate(179.89 1988.11) rotate(-45)" y="3.59">Top 60%</text>
<text transform="translate(224.41 1988.11) rotate(-45)" y="3.59">Top 50%</text>
<text transform="translate(268.94 1988.11) rotate(-45)" y="3.59">Top 40%</text>
<text transform="translate(313.47 1988.11) rotate(-45)" y="3.59">Top 20%</text>
</g>
<text x="202.15" y="2027.63" font-size="15.23" text-anchor="middle">Selected Features of emotions dataset</text>
<text transform="translate(20.71 1835.45) rotate(-90)" font-size="15.23" text-anchor="middle">Accuracy of emotions dataset</text>
<text x="202.15" y="1708.87" font-size="17.41" text-anchor="middle">Classifier : MLKNN</text>
</g>
<g>
<rect x="424.01" y="1861.95" width="35.62" height="93.55" fill="#0000ff"/>
<rect x="468.54" y="1851.56" width="35.62" height="103.94" fill="#ffa500"/>
<rect x="513.07" y="1924.32" width="35.62" height="31.18" fill="#008000"/>
<rect x="557.6" y="1789.2" width="35.62" height="166.3" fill="#ff0000"/>
<rect x="602.13" y="1726.83" width="35.62" height="228.67" fill="#800080"/>
<rect x="646.66" y="1737.23" width="35.62" height="218.27" fill="#a52a2a"/>
<path d="M441.83 1715.4V1955.5M486.36 1715.4V1955.5M530.89 1715.4V1955.5M575.41 1715.4V1955.5M619.94 1715.4V1955.5M664.47 1715.4V1955.5M411.1 1955.5H695.2M411.1 1903.53H695.2M411.1 1851.56H695.2M411.1 1799.59H695.2M411.1 1747.62H695.2" stroke="#b0b0b0" stroke-width="0.87" fill="none"/>
<path d="M441.83 1955.5v3.81M486.36 1955.5v3.81M530.89 1955.5v3.81M575.41 1955.5v3.81M619.94 1955.5v3.81M664.47 1955.5v3.81M411.1 1955.5h-3.81M411.1 1903.53h-3.81M411.1 1851.56h-3.81M411.1 1799.59h-3.81M411.1 1747.62h-3.81" stroke="#000" stroke-width="0.87" fill="none"/>
<rect x="411.1" y="1715.4" width="284.1" height="240.1" fill="none" stroke="#000" stroke-width="0.87"/>
<g font-size="10.88" text-anchor="end">
<text x="403.48" y="1960.12">0.00</text>
<text x="403.48" y="1908.15">0.05</text>
<text x="403.48" y="1856.18">0.10</text>
<text x="403.48" y="1804.21">0.15</text>
<text x="403.48" y="1752.24">0.20</text>
</g>
<g font-size="13.06" text-anchor="middle">
<text transform="translate(441.83 1986.65) rotate(-45)" y="3.59">Original</text>
<text transform="translate(486.36 1988.11) rotate(-45)" y="3.59">Top 80%</text>
<text transform="translate(530.89 1988.11) rotate(-45)" y="3.59">Top 60%</text>
<text transform="translate(575.41 1988.11) rotate(-45)" y="3.59">Top 50%</text>
<text transform="translate(619.94 1988.11) rotate(-45)" y="3.59">Top 40%</text>
<text transform="translate(664.47 1988.11) rotate(-45)" y="3.59">Top 20%</text>
</g>
<text x="553.15" y="2027.63" font-size="15.23" text-anchor="middle">Selected Features of emotions dataset</text>
<text transform="translate(371.71 1835.45) rotate(-90)" font-size="15.23" text-anchor="middle">Accuracy of emotions dataset</text>
<text x="553.15" y="1708.87" font-size="17.41" text-anchor="middle">Classifier : MLTSVM</text>
</g>
<g>
<rect x="775.01" y="1790.86" width="35.62" height="164.64" fill="#0000ff"/>
<rect x="819.54" y="1781.71" width="35.62" height="173.79" fill="#ffa500"/>
<rect x="864.07" y="1781.71" width="35.62" height="173.79" fill="#008000"/>
<rect x="908.6" y="1726.83" width="35.62" height="228.67" fill="#ff0000"/>
<rect x="953.13" y="1763.42" width="35.62" height="192.08" fill="#800080"/>
<rect x="997.66" y="1763.42" width="35.62" height="192.08" fill="#a52a2a"/>
<path d="M792.83 1715.4V1955.5M837.36 1715.4V1955.5M881.89 1715.4V1955.5M926.41 1715.4V1955.5M970.94 1715.4V1955.5M1015.47 1715.4V1955.5M762.1 1955.5H1046.2M762.1 1909.77H1046.2M762.1 1864.03H1046.2M762.1 1818.3H1046.2M762.1 1772.57H1046.2M762.1 1726.83H1046.2" stroke="#b0b0b0" stroke-width="0.87" fill="none"/>
<path d="M792.83 1955.5v3.81M837.36 1955.5v3.81M881.89 1955.5v3.81M926.41 1955.5v3.81M970.94 1955.5v3.81M1015.47 1955.5v3.81M762.1 1955.5h-3.81M762.1 1909.77h-3.81M762.1 1864.03h-3.81M762.1 1818.3h-3.81M762.1 1772.57h-3.81M762.1 1726.83h-3.81" stroke="#000" stroke-width="0.87" fill="none"/>
<rect x="762.1" y="1715.4" width="284.1" height="240.1" fill="none" stroke="#000" stroke-width="0.87"/>
<g font-size="10.88" text-anchor="end">
<text x="754.48" y="1960.12">0.00</text>
<text x="754.48" y="1914.39">0.05</text>
<text x="754.48" y="1868.65">0.10</text>
<text x="754.48" y="1822.92">0.15</text>
<text x="754.48" y="1777.19">0.20</text>
<text x="754.48" y="1731.45">0.25</text>
</g>
<g font-size="13.06" text-anchor="middle">
<text transform="translate(792.83 1986.65) rotate(-45)" y="3.59">Original</text>
<text transform="translate(837.36 1988.11) rotate(-45)" y="3.59">Top 80%</text>
<text transform="translate(881.89 1988.11) rotate(-45)" y="3.59">Top 60%</text>
<text transform="translate(926.41 1988.11) rotate(-45)" y="3.59">Top 50%</text>
<text transform="translate(970.94 1988.11) rotate(-45)" y="3.59">Top 40%</text>
<text transform="translate(1015.47 1988.11) rotate(-45)" y="3.59">Top 20%</text>
</g>
<text x="904.15" y="2027.63" font-size="15.23" text-anchor="middle">Selected Features of emotions dataset</text>
<text transform="translate(722.71 1835.45) rotate(-90)" font-size="15.23" text-anchor="middle">Accuracy of emotions dataset</text>
<text x="904.15" y="1708.87" font-size="17.41" text-anchor="middle">Classifier : BRKNNa</text>
</g>
<g>
<rect x="1126.01" y="1726.83" width="35.62" height="228.67" fill="#0000ff"/>
<rect x="1170.54" y="1764.94" width="35.62" height="190.56" fill="#ffa500"/>
<rect x="1215.07" y="1764.94" width="35.62" height="190.56" fill="#008000"/>
<rect x="1259.6" y="1745.89" width="35.62" height="209.61" fill="#ff0000"/>
<rect x="1304.13" y="1764.94" width="35.62" height="190.56" fill="#800080"/>
<rect x="1348.66" y="1803.06" width="35.62" height="152.44" fill="#a52a2a"/>
<path d="M1143.83 1715.4V1955.5M1188.36 1715.4V1955.5M1232.89 1715.4V1955.5M1277.41 1715.4V1955.5M1321.94 1715.4V1955.5M1366.47 1715.4V1955.5M1113.1 1955.5H1397.2M1113.1 1923.74H1397.2M1113.1 1891.98H1397.2M1113.1 1860.22H1397.2M1113.1 1828.46H1397.2M1113.1 1796.7H1397.2M1113.1 1764.94H1397.2M1113.1 1733.19H1397.2" stroke="#b0b0b0" stroke-width="0.87" fill="none"/>
<path d="M1143.83 1955.5v3.81M1188.36 1955.5v3.81M1232.89 1955.5v3.81M1277.41 1955.5v3.81M1321.94 1955.5v3.81M1366.47 1955.5v3.81M1113.1 1955.5h-3.81M1113.1 1923.74h-3.81M1113.1 1891.98h-3.81M1113.1 1860.22h-3.81M1113.1 1828.46h-3.81M1113.1 1796.7h-3.81M1113.1 1764.94h-3.81M1113.1 1733.19h-3.81" stroke="#000" stroke-width="0.87" fill="none"/>
<rect x="1113.1" y="1715.4" width="284.1" height="240.1" fill="none" stroke="#000" stroke-width="0.87"/>
<g font-size="10.88" text-anchor="end">
<text x="1105.48" y="1960.12">0.00</text>
<text x="1105.48" y="1928.36">0.05</text>
<text x="1105.48" y="1896.6">0.10</text>
<text x="1105.48" y="1864.84">0.15</text>
<text x="1105.48" y="1833.08">0.20</text>
<text x="1105.48" y="1801.32">0.25</text>
<text x="1105.48" y="1769.57">0.30</text>
<text x="1105.48" y="1737.81">0.35</text>
</g>
<g font-size="13.06" text-anchor="middle">
<text transform="translate(1143.83 1986.65) rotate(-45)" y="3.59">Original</text>
<text transform="translate(1188.36 1988.11) rotate(-45)" y="3.59">Top 80%</text>
<text transform="translate(1232.89 1988.11) rotate(-45)" y="3.59">Top 60%</text>
<text transform="translate(1277.41 1988.11) rotate(-45)" y="3.59">Top 50%</text>
<text transform="translate(1321.94 1988.11) rotate(-45)" y="3.59">Top 40%</text>
<text transform="translate(1366.47 1988.11) rotate(-45)" y="3.59">Top 20%</text>
</g>
<text x="1255.15" y="2027.63" font-size="15.23" text-anchor="middle">Selected Features of emotions dataset</text>
<text transform="translate(1073.71 1835.45) rotate(-90)" font-size="15.23" text-anchor="middle">Accuracy of emotions dataset</text>
<text x="1255.15" y="1708.87" font-size="17.41" text-anchor="middle">Classifier : BR</text>
</g>
<g>
<rect x="73.01" y="2073.73" width="35.62" height="228.67" fill="#0000ff"/>
<rect x="117.54" y="2080.09" width="35.62" height="222.31" fill="#ffa500"/>
<rect x="162.07" y="2073.73" width="35.62" height="228.67" fill="#008000"/>
<rect x="206.6" y="2073.73" width="35.62" height="228.67" fill="#ff0000"/>
<rect x="251.13" y="2080.09" width="35.62" height="222.31" fill="#800080"/>
<rect x="295.66" y="2124.55" width="35.62" height="177.85" fill="#a52a2a"/>
<path d="M90.83 2062.3V2302.4M135.36 2062.3V2302.4M179.89 2062.3V2302.4M224.41 2062.3V2302.4M268.94 2062.3V2302.4M313.47 2062.3V2302.4M60.1 2302.4H344.2M60.1 2270.64H344.2M60.1 2238.88H344.2M60.1 2207.12H344.2M60.1 2175.36H344.2M60.1 2143.6H344.2M60.1 2111.84H344.2M60.1 2080.09H344.2" stroke="#b0b0b0" stroke-width="0.87" fill="none"/>
<path d="M90.83 2302.4v3.81M135.36 2302.4v3.81M179.89 2302.4v3.81M224.41 2302.4v3.81M268.94 2302.4v3.81M313.47 2302.4v3.81M60.1 2302.4h-3.81M60.1 2270.64h-3.81M60.1 2238.88h-3.81M60.1 2207.12h-3.81M60.1 2175.36h-3.81M60.1 2143.6h-3.81M60.1 2111.84h-3.81M60.1 2080.09h-3.81" stroke="#000" stroke-width="0.87" fill="none"/>
<rect x="60.1" y="2062.3" width="284.1" height="240.1" fill="none" stroke="#000" stroke-width="0.87"/>
<g font-size="10.88" text-anchor="end">
<text x="52.48" y="2307.02">0.00</text>
<text x="52.48" y="2275.26">0.05</text>
<text x="52.48" y="2243.5">0.10</text>
<text x="52.48" y="2211.74">0.15</text>
<text x="52.48" y="2179.98">0.20</text>
<text x="52.48" y="2148.22">0.25</text>
<text x="52.48" y="2116.47">0.30</text>
<text x="52.48" y="2084.71">0.35</text>
</g>
<g font-size="13.06" text-anchor="middle">
<text transform="translate(90.83 2333.55) rotate(-45)" y="3.59">Original</text>
<text transform="translate(135.36 2335.01) rotate(-45)" y="3.59">Top 80%</text>
<text transform="translate(179.89 2335.01) rotate(-45)" y="3.59">Top 60%</text>
<text transform="translate(224.41 2335.01) rotate(-45)" y="3.59">Top 50%</text>
<text transform="translate(268.94 2335.01) rotate(-45)" y="3.59">Top 40%</text>
<text transform="translate(313.47 2335.01) rotate(-45)" y="3.59">Top 20%</text>
</g>
<text x="202.15" y="2374.53" font-size="15.23" text-anchor="middle">Selected Features of emotions dataset</text>
<text transform="translate(20.71 2182.35) rotate(-90)" font-size="15.23" text-anchor="middle">Accuracy of emotions dataset</text>
<text x="202.15" y="2055.77" font-size="17.41" text-anchor="middle">Classifier : CC</text>
</g>
<g>
<rect x="424.01" y="2073.73" width="35.62" height="228.67" fill="#0000ff"/>
<rect x="468.54" y="2080.27" width="35.62" height="222.13" fill="#ffa500"/>
<rect x="513.07" y="2086.8" width="35.62" height="215.6" fill="#008000"/>
<rect x="557.6" y="2086.8" width="35.62" height="215.6" fill="#ff0000"/>
<rect x="602.13" y="2086.8" width="35.62" height="215.6" fill="#800080"/>
<rect x="646.66" y="2099.87" width="35.62" height="202.53" fill="#a52a2a"/>
<path d="M441.83 2062.3V2302.4M486.36 2062.3V2302.4M530.89 2062.3V2302.4M575.41 2062.3V2302.4M619.94 2062.3V2302.4M664.47 2062.3V2302.4M411.1 2302.4H695.2M411.1 2269.73H695.2M411.1 2237.07H695.2M411.1 2204.4H695.2M411.1 2171.73H695.2M411.1 2139.07H695.2M411.1 2106.4H695.2M411.1 2073.73H695.2" stroke="#b0b0b0" stroke-width="0.87" fill="none"/>
<path d="M441.83 2302.4v3.81M486.36 2302.4v3.81M530.89 2302.4v3.81M575.41 2302.4v3.81M619.94 2302.4v3.81M664.47 2302.4v3.81M411.1 2302.4h-3.81M411.1 2269.73h-3.81M411.1 2237.07h-3.81M411.1 2204.4h-3.81M411.1 2171.73h-3.81M411.1 2139.07h-3.81M411.1 2106.4h-3.81M411.1 2073.73h-3.81" stroke="#000" stroke-width="0.87" fill="none"/>
<rect x="411.1" y="2062.3" width="284.1" height="240.1" fill="none" stroke="#000" stroke-width="0.87"/>
<g font-size="10.88" text-anchor="end">
<text x="403.48" y="2307.02">0.00</text>
<text x="403.48" y="2274.35">0.05</text>
<text x="403.48" y="2241.69">0.10</text>
<text x="403.48" y="2209.02">0.15</text>
<text x="403.48" y="2176.35">0.20</text>
<text x="403.48" y="2143.69">0.25</text>
<text x="403.48" y="2111.02">0.30</text>
<text x="403.48" y="2078.35">0.35</text>
</g>
<g font-size="13.06" text-anchor="middle">
<text transform="translate(441.83 2333.55) rotate(-45)" y="3.59">Original</text>
<text transform="translate(486.36 2335.01) rotate(-45)" y="3.59">Top 80%</text>
<text transform="translate(530.89 2335.01) rotate(-45)" y="3.59">Top 60%</text>
<text transform="translate(575.41 2335.01) rotate(-45)" y="3.59">Top 50%</text>
<text transform="translate(619.94 2335.01) rotate(-45)" y="3.59">Top 40%</text>
<text transform="translate(664.47 2335.01) rotate(-45)" y="3.59">Top 20%</text>
</g>
<text x="553.15" y="2374.53" font-size="15.23" text-anchor="middle">Selected Features of emotions dataset</text>
<text transform="translate(371.71 2182.35) rotate(-90)" font-size="15.23" text-anchor="middle">Accuracy of emotions dataset</text>
<text x="553.15" y="2055.77" font-size="17.41" text-anchor="middle">Classifier : LP</text>
</g>
<g>
<rect x="775.01" y="2080.27" width="35.62" height="222.13" fill="#0000ff"/>
<rect x="819.54" y="2106.4" width="35.62" height="196" fill="#ffa500"/>
<rect x="864.07" y="2073.73" width="35.62" height="228.67" fill="#008000"/>
<rect x="908.6" y="2093.33" width="35.62" height="209.07" fill="#ff0000"/>
<rect x="953.13" y="2112.93" width="35.62" height="189.47" fill="#800080"/>
<rect x="997.66" y="2112.93" width="35.62" height="189.47" fill="#a52a2a"/>
<path d="M792.83 2062.3V2302.4M837.36 2062.3V2302.4M881.89 2062.3V2302.4M926.41 2062.3V2302.4M970.94 2062.3V2302.4M1015.47 2062.3V2302.4M762.1 2302.4H1046.2M762.1 2269.73H1046.2M762.1 2237.07H1046.2M762.1 2204.4H1046.2M762.1 2171.73H1046.2M762.1 2139.07H1046.2M762.1 2106.4H1046.2M762.1 2073.73H1046.2" stroke="#b0b0b0" stroke-width="0.87" fill="none"/>
<path d="M792.83 2302.4v3.81M837.36 2302.4v3.81M881.89 2302.4v3.81M926.41 2302.4v3.81M970.94 2302.4v3.81M1015.47 2302.4v3.81M762.1 2302.4h-3.81M762.1 2269.73h-3.81M762.1 2237.07h-3.81M762.1 2204.4h-3.81M762.1 2171.73h-3.81M762.1 2139.07h-3.81M762.1 2106.4h-3.81M762.1 2073.73h-3.81" stroke="#000" stroke-width="0.87" fill="none"/>
<rect x="762.1" y="2062.3" width="284.1" height="240.1" fill="none" stroke="#000" stroke-width="0.87"/>
<g font-size="10.88" text-anchor="end">
<text x="754.48" y="2307.02">0.00</text>
<text x="754.48" y="2274.35">0.05</text>
<text x="754.48" y="2241.69">0.10</text>
<text x="754.48" y="2209.02">0.15</text>
<text x="754.48" y="2176.35">0.20</text>
<text x="754.48" y="2143.69">0.25</text>
<text x="754.48" y="2111.02">0.30</text>
<text x="754.48" y="2078.35">0.35</text>
</g>
<g font-size="13.06" text-anchor="middle">
<text transform="translate(792.83 2333.55) rotate(-45)" y="3.59">Original</text>
<text transform="translate(837.36 2335.01) rotate(-45)" y="3.59">Top 80%</text>
<text transform="translate(881.89 2335.01) rotate(-45)" y="3.59">Top 60%</text>
<text transform="translate(926.41 2335.01) rotate(-45)" y="3.59">Top 50%</text>
<text transform="translate(970.94 2335.01) rotate(-45)" y="3.59">Top 40%</text>
<text transform="translate(1015.47 2335.01) rotate(-45)" y="3.59">Top 20%</text>
</g>
<text x="904.15" y="2374.53" font-size="15.23" text-anchor="middle">Selected Features of emotions dataset</text>
<text transform="translate(722.71 2182.35) rotate(-90)" font-size="15.23" text-anchor="middle">Accuracy of emotions dataset</text>
<text x="904.15" y="2055.77" font-size="17.41" text-anchor="middle">Classifier : LSPU</text>
</g>
<g>
<rect x="1126.01" y="2081.11" width="35.62" height="221.29" fill="#0000ff"/>
<rect x="1170.54" y="2095.86" width="35.62" height="206.54" fill="#ffa500"/>
<rect x="1215.07" y="2088.49" width="35.62" height="213.91" fill="#008000"/>
<rect x="1259.6" y="2088.49" width="35.62" height="213.91" fill="#ff0000"/>
<rect x="1304.13" y="2073.73" width="35.62" height="228.67" fill="#800080"/>
<rect x="1348.66" y="2103.24" width="35.62" height="199.16" fill="#a52a2a"/>
<path d="M1143.83 2062.3V2302.4M1188.36 2062.3V2302.4M1232.89 2062.3V2302.4M1277.41 2062.3V2302.4M1321.94 2062.3V2302.4M1366.47 2062.3V2302.4M1113.1 2302.4H1397.2M1113.1 2265.52H1397.2M1113.1 2228.64H1397.2M1113.1 2191.75H1397.2M1113.1 2154.87H1397.2M1113.1 2117.99H1397.2M1113.1 2081.11H1397.2" stroke="#b0b0b0" stroke-width="0.87" fill="none"/>
<path d="M1143.83 2302.4v3.81M1188.36 2302.4v3.81M1232.89 2302.4v3.81M1277.41 2302.4v3.81M1321.94 2302.4v3.81M1366.47 2302.4v3.81M1113.1 2302.4h-3.81M1113.1 2265.52h-3.81M1113.1 2228.64h-3.81M1113.1 2191.75h-3.81M1113.1 2154.87h-3.81M1113.1 2117.99h-3.81M1113.1 2081.11h-3.81" stroke="#000" stroke-width="0.87" fill="none"/>
<rect x="1113.1" y="2062.3" width="284.1" height="240.1" fill="none" stroke="#000" stroke-width="0.87"/>
<g font-size="13.06" text-anchor="end">
<text x="1105.48" y="2307.82">0.00</text>
<text x="1105.48" y="2270.93">0.05</text>
<text x="1105.48" y="2234.05">0.10</text>
<text x="1105.48" y="2197.17">0.15</text>
<text x="1105.48" y="2160.29">0.20</text>
<text x="1105.48" y="2123.41">0.25</text>
<text x="1105.48" y="2086.52">0.30</text>
</g>
<g font-size="13.06" text-anchor="middle">
<text transform="translate(1143.83 2333.55) rotate(-45)" y="3.59">Original</text>
<text transform="translate(1188.36 2335.01) rotate(-45)" y="3.59">Top 80%</text>
<text transform="translate(1232.89 2335.01) rotate(-45)" y="3.59">Top 60%</text>
<text transform="translate(1277.41 2335.01) rotate(-45)" y="3.59">Top 50%</text>
<text transform="translate(1321.94 2335.01) rotate(-45)" y="3.59">Top 40%</text>
<text transform="translate(1366.47 2335.01) rotate(-45)" y="3.59">Top 20%</text>
</g>
<text x="1255.15" y="2374.53" font-size="15.23" text-anchor="middle">Selected Features of emotions dataset</text>
<text transform="translate(1068.86 2182.35) rotate(-90)" font-size="15.23" text-anchor="middle">Accuracy of emotions dataset</text>
<text x="1255.15" y="2055.77" font-size="17.41" text-anchor="middle">Classifier : LSPV</text>
</g>
<text class="cap" x="450.48" y="2433.9" font-size="36" textLength="39.39" lengthAdjust="spacingAndGlyphs">(c)</text>
<text class="cap" x="502.36" y="2433.9" font-size="36" textLength="137.89" lengthAdjust="spacingAndGlyphs">Accuracy</text>
<text class="cap" x="652.73" y="2433.9" font-size="36" textLength="28.87" lengthAdjust="spacingAndGlyphs">of</text>
<text class="cap" x="691.83" y="2433.9" font-size="36" textLength="134.51" lengthAdjust="spacingAndGlyphs">emotions</text>
<text class="cap" x="837.7" y="2433.9" font-size="36" textLength="117.21" lengthAdjust="spacingAndGlyphs">dataset.</text>
</svg></body></html>
